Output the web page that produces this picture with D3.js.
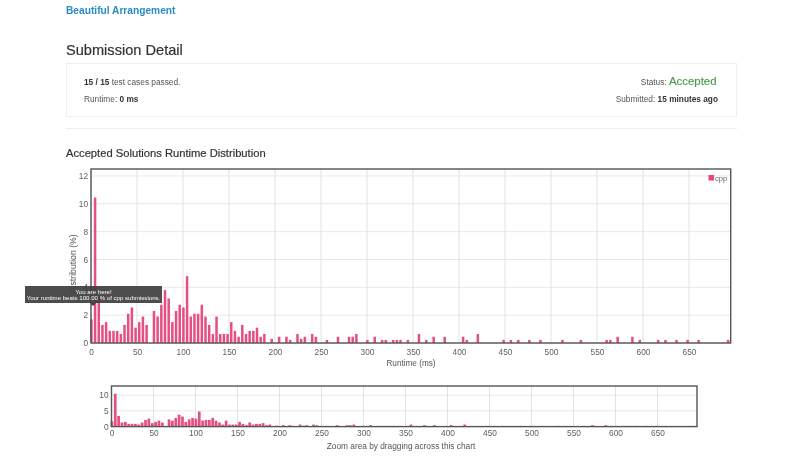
<!DOCTYPE html>
<html><head><meta charset="utf-8">
<script src="https://cdnjs.cloudflare.com/ajax/libs/d3/7.8.5/d3.min.js"></script>
<style>
html,body{margin:0;padding:0;background:#fff}
svg{display:block;font-family:"Liberation Sans",Arial,sans-serif;filter:blur(0.3px)}
.axis path,.axis line{display:none}
.axis text{fill:#5f5f5f;font-size:8.3px}
</style></head><body>
<svg id="c" width="800" height="460"></svg>
<script>
const runtimes=[0,4,8,12,16,20,24,28,32,36,40,44,48,52,56,60,68,72,76,80,84,88,92,96,100,104,108,112,116,120,124,128,132,136,140,144,148,152,156,160,164,168,172,176,180,184,188,196,204,212,216,224,228,232,240,244,256,268,280,284,288,300,308,316,320,328,332,336,344,356,364,372,384,404,408,420,448,456,464,476,488,512,532,560,564,572,588,596,616,624,636,648,660,692];
const percents=[1.7,10.45,3.4,1.3,1.5,.87,.87,.87,.65,1.3,2.1,2.55,1.1,1.5,1.9,1.3,2.3,1.9,2.75,3.8,3.2,1.5,2.3,2.75,2.55,4.8,1.9,2.1,2.1,2.75,1.9,1.3,.65,1.9,.65,.65,.65,1.5,.87,.45,1.3,.65,.87,.87,1.1,.45,.65,.3,.45,.45,.22,.65,.3,.45,.65,.45,.22,.45,.45,.45,.65,.22,.45,.22,.22,.22,.22,.22,.22,.65,.22,.45,.45,.45,.22,.65,.22,.22,.22,.22,.22,.22,.22,.22,.22,.45,.45,.22,.22,.22,.22,.22,.22,.22];
const xTicks=d3.range(0,651,50);
const yTicksMain=[0,2,4,6,8,10,12];
const yTicksZoom=[0,5,10];
const seriesName="cpp";
const tooltipLines=["You are here!","Your runtime beats 100.00 % of cpp submissions."];
const BAR="#e64f80";
const data=runtimes.map((t,i)=>({t,v:percents[i]}));
const svg=d3.select("#c");

function T(x,y,s,o={}){
  const e=svg.append("text").attr("x",x).attr("y",y).text(s)
    .attr("font-size",o.size||9).attr("fill",o.fill||"#333")
    .attr("font-weight",o.weight||"normal").attr("text-anchor",o.anchor||"start");
  if(o.heavy) e.attr("stroke",o.fill||"#333").attr("stroke-width",o.heavy);
  return e;
}
// page header
T(66,13.5,"Beautiful Arrangement",{size:10.2,weight:"bold",fill:"#2a8cc4"});
T(66,55,"Submission Detail",{size:14.6,fill:"#333",heavy:.2});
svg.append("rect").attr("x",66.5).attr("y",63.5).attr("width",670).attr("height",53).attr("fill","#fff").attr("stroke","#eeeeee");
const p1=T(84,85,"",{size:8.3,fill:"#555"});
p1.append("tspan").attr("font-weight","bold").attr("fill","#333").text("15 / 15");
p1.append("tspan").text(" test cases passed.");
const p2=T(84,101.5,"",{size:8.3,fill:"#555"});
p2.append("tspan").text("Runtime: ");
p2.append("tspan").attr("font-weight","bold").attr("fill","#333").text("0 ms");
const p3=T(716.5,85,"",{size:8.3,fill:"#555",anchor:"end"});
p3.append("tspan").text("Status: ");
p3.append("tspan").attr("font-size",11.4).attr("fill","#4a9d4f").attr("stroke","#4a9d4f").attr("stroke-width",.2).text("Accepted");
const p4=T(718,101.5,"",{size:8.3,fill:"#555",anchor:"end"});
p4.append("tspan").text("Submitted: ");
p4.append("tspan").attr("font-weight","bold").attr("fill","#333").text("15 minutes ago");
svg.append("line").attr("x1",66).attr("x2",737).attr("y1",128.5).attr("y2",128.5).attr("stroke","#eeeeee");
T(66,157,"Accepted Solutions Runtime Distribution",{size:11.2,fill:"#333",heavy:.2});

function chart(o){
  const x=d3.scaleLinear().domain([0,o.xMax]).range([o.l,o.r]);
  const y=d3.scaleLinear().domain([0,o.yMax]).range([o.b,o.t]);
  const g=svg.append("g");
  g.selectAll(".gy").data(o.yTicks).join("line").attr("x1",o.l).attr("x2",o.r)
    .attr("y1",d=>y(d)).attr("y2",d=>y(d)).attr("stroke","#e8e8e8");
  g.selectAll(".gx").data(xTicks).join("line").attr("y1",o.t).attr("y2",o.b)
    .attr("x1",d=>x(d)).attr("x2",d=>x(d)).attr("stroke","#e2e2e2");
  g.selectAll(".bar").data(data).join("rect").attr("fill",BAR)
    .attr("x",d=>x(d.t)+0.4-o.bw/2).attr("width",o.bw)
    .attr("y",d=>y(d.v)).attr("height",d=>y(0)-y(d.v));
  g.append("rect").attr("x",o.l).attr("y",o.t).attr("width",o.r-o.l).attr("height",o.b-o.t)
    .attr("fill","none").attr("stroke","#555").attr("stroke-width",1.4);
  g.append("g").attr("class","axis").attr("transform",`translate(0,${o.b})`)
    .call(d3.axisBottom(x).tickValues(xTicks).tickSize(0).tickPadding(o.padX));
  g.append("g").attr("class","axis").attr("transform",`translate(${o.l},0)`)
    .call(d3.axisLeft(y).tickValues(o.yTicks).tickSize(0).tickPadding(3));
}
chart({l:91,r:730.7,t:169,b:343,xMax:695.3,yMax:12.5,yTicks:yTicksMain,padX:6,bw:2.5});
chart({l:111.5,r:697,t:386,b:426.6,xMax:697,yMax:12.9,yTicks:yTicksZoom,padX:4,bw:2.7});

T(411,366,"Runtime (ms)",{size:8.2,fill:"#555",anchor:"middle"});
svg.append("text").attr("transform","translate(75.5,264) rotate(-90)").attr("text-anchor","middle")
  .attr("font-size",8.7).attr("fill","#555").text("Distribution (%)");
T(401,449,"Zoom area by dragging across this chart",{size:8.3,fill:"#555",anchor:"middle"});
// legend
svg.append("rect").attr("x",708.5).attr("y",175).attr("width",5.5).attr("height",5.5).attr("fill","#ee4477");
T(715,180.5,seriesName,{size:7.5,fill:"#666"});
// tooltip
svg.append("rect").attr("x",25).attr("y",286).attr("width",137).attr("height",17).attr("fill","#3f3f3f").attr("fill-opacity",.93);
svg.append("path").attr("d",d3.line()([[90,303],[96,303],[93,306]])).attr("fill","#3f3f3f");
tooltipLines.forEach((s,i)=>T(93.5,293.5+i*6.6,s,{size:6.1,fill:"#fff",anchor:"middle"}));
</script></body></html>
